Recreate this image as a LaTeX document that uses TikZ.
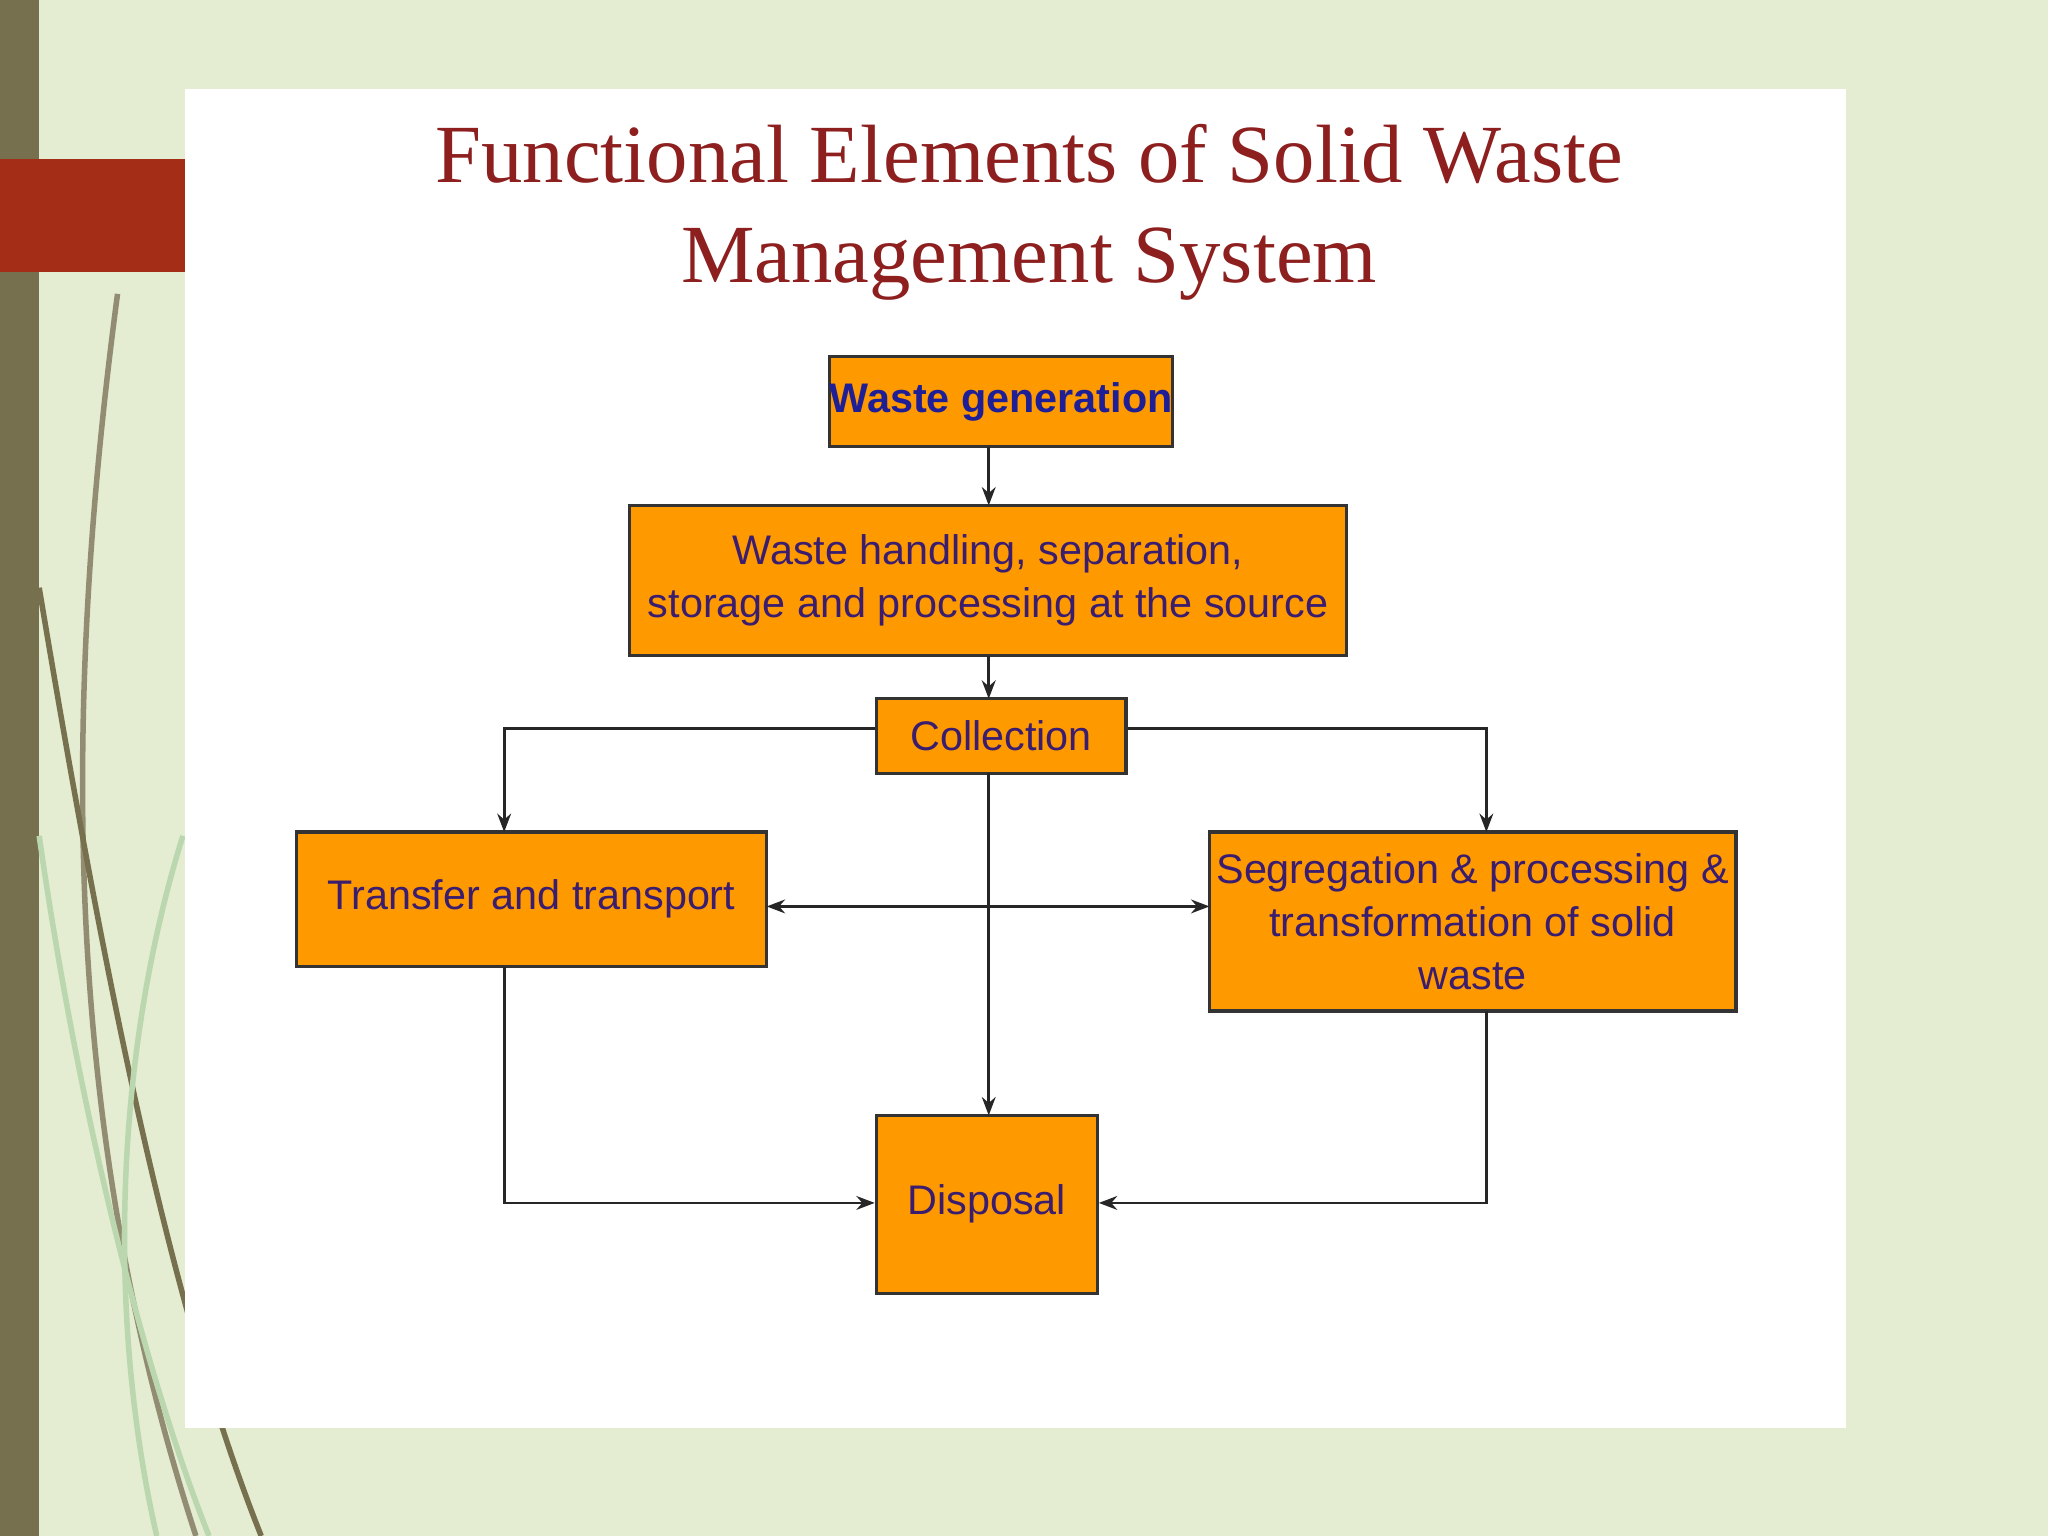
\documentclass[tikz,border=0pt]{standalone}
\usepackage{fontspec}
\setmainfont{Liberation Sans}
\newfontfamily\titlefont{Liberation Serif}
\usetikzlibrary{arrows.meta}
\definecolor{bg}{HTML}{E4ECD2}
\definecolor{bar}{HTML}{77704F}
\definecolor{redbar}{HTML}{A32D17}
\definecolor{ttl}{HTML}{8E1F1F}
\definecolor{orng}{HTML}{FF9900}
\definecolor{txt}{HTML}{3A1D6E}
\definecolor{txtb}{HTML}{1E1E96}
\begin{document}
\begin{tikzpicture}[x=0.01cm,y=-0.01cm,
  box/.style={draw=black!80,fill=orng,line width=0.7pt,align=center,font=\fontsize{9}{11.5}\selectfont,text=txt,inner sep=0pt},
  arr/.style={-{Stealth[length=4pt,width=3pt]},line width=0.6pt,black!85},
  deco/.style={line width=1.2pt}]
\useasboundingbox (0,0) rectangle (1568,1176);
\fill[bg] (0,0) rectangle (1568,1176);
\fill[bar] (0,0) rectangle (30,1176);
% decorative strokes
\draw[deco,bar!80] (90,225) .. controls (40,600) and (60,900) .. (150,1176);
\draw[deco,bar] (30,450) .. controls (80,750) and (130,1000) .. (200,1176);
\draw[deco,green!30!bar!40] (30,640) .. controls (60,850) and (110,1050) .. (160,1176);
\draw[deco,green!30!bar!40] (140,640) .. controls (90,800) and (80,1000) .. (120,1176);
\fill[redbar] (0,122) rectangle (142,208);
\fill[white] (142,68) rectangle (1413,1093);
\node[font=\titlefont\fontsize{18}{22}\selectfont,text=ttl] (t1) at (788,118) {Functional Elements of Solid Waste};
\node[font=\titlefont\fontsize{18}{22}\selectfont,text=ttl] (t2) at (788,202) {Management System};
\node[box,minimum width=255\pgflinewidth*0+2.55cm,minimum height=0.69cm,text=txtb,font=\bfseries\fontsize{9}{11}\selectfont] (gen) at (766.5,307.5) {Waste generation};
\node[box,minimum width=5.49cm,minimum height=1.15cm] (hand) at (756.5,444.5) {Waste handling, separation,\\storage and processing at the source};
\node[box,minimum width=1.91cm,minimum height=0.57cm] (col) at (766.5,563.5) {Collection};
\node[box,minimum width=3.60cm,minimum height=1.03cm] (tr) at (407,688.5) {Transfer and transport};
\node[box,minimum width=4.03cm,minimum height=1.37cm] (seg) at (1127.5,705.5) {Segregation \& processing \&\\transformation of solid\\waste};
\node[box,minimum width=1.69cm,minimum height=1.36cm] (dis) at (755.5,922) {Disposal};
\coordinate (cl) at (386,558);
\coordinate (cr) at (1138,558);
\coordinate (bl) at (386,921);
\coordinate (br) at (1138,921);
\draw[arr] (757,342) -- (757,387);
\draw[arr] (757,502) -- (757,535);
\draw[arr] (col.west |- cl) -- (cl) -- (386,637);
\draw[arr] (col.east |- cr) -- (cr) -- (1138,637);
\draw[arr] (757,592) -- (757,854);
\draw[arr,{Stealth[length=4pt,width=3pt]}-{Stealth[length=4pt,width=3pt]}] (587,694) -- (926,694);
\draw[arr] (386,740) -- (bl) -- (dis.west |- bl);
\draw[arr] (1138,774) -- (br) -- (dis.east |- br);
\end{tikzpicture}
\end{document}
